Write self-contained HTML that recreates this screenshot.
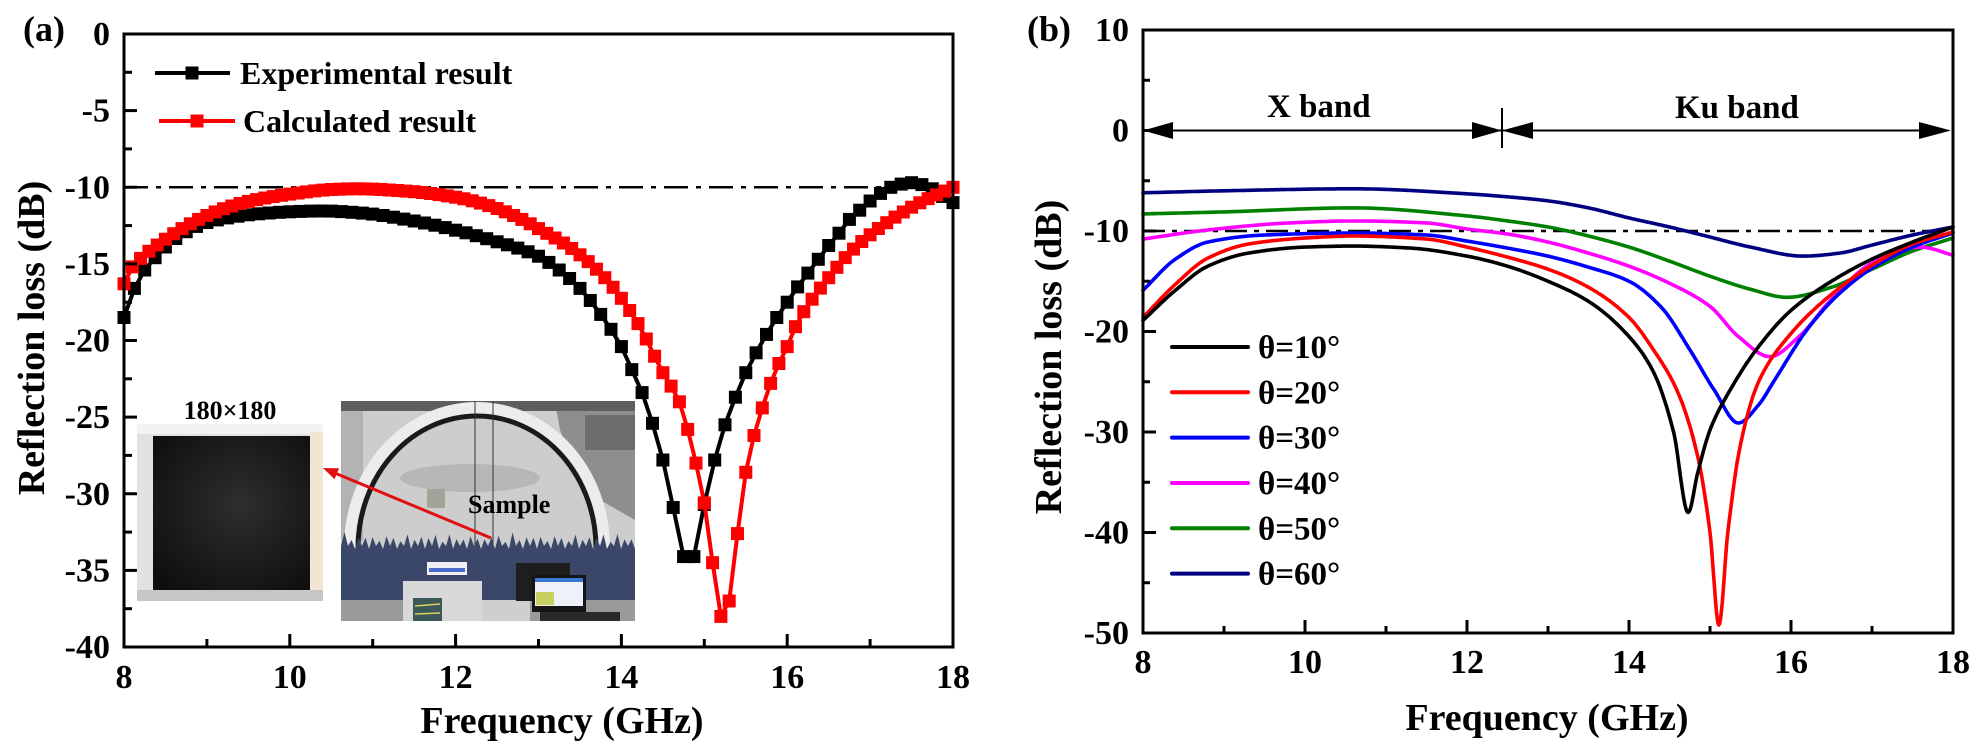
<!DOCTYPE html>
<html><head><meta charset="utf-8">
<style>
html,body{margin:0;padding:0;background:#fff;width:1980px;height:751px;overflow:hidden;}
svg{display:block;}
text{font-family:"Liberation Serif","DejaVu Serif",serif;font-weight:bold;fill:#000;}
</style></head><body>
<svg id="s" width="1980" height="751" viewBox="0 0 1980 751" xmlns="http://www.w3.org/2000/svg">
<defs>
<radialGradient id="blk" cx="0.55" cy="0.45" r="0.7">
<stop offset="0" stop-color="#2e2e2e"/><stop offset="1" stop-color="#0e0e0e"/>
</radialGradient>
<clipPath id="c2"><rect x="341" y="401" width="294" height="220"/></clipPath>
</defs>

<!-- ================= PANEL A ================= -->
<text x="23" y="41" font-size="36">(a)</text>
<!-- inset photo 1 -->
<rect x="137" y="424" width="186" height="177" fill="#e2e2e0"/>
<rect x="137" y="424" width="186" height="10" fill="#f2f2f0"/>
<rect x="310" y="432" width="13" height="160" fill="#f3e5d6"/>
<rect x="137" y="590" width="186" height="11" fill="#c6c6c6"/>
<rect x="153" y="436" width="157" height="154" fill="url(#blk)"/>
<text x="230" y="419" font-size="26" text-anchor="middle">180×180</text>
<!-- inset photo 2 -->
<g clip-path="url(#c2)">
<rect x="341" y="401" width="294" height="220" fill="#cdcdcd"/>
<polygon points="555,401 635,401 635,520 600,500 575,470 560,430" fill="#8e8e8e"/>
<rect x="585" y="415" width="50" height="35" fill="#6d6d6d"/>
<rect x="341" y="401" width="294" height="10" fill="#5e5e5e"/>
<rect x="341" y="411" width="22" height="130" fill="#b3b3b3"/>
<ellipse cx="470" cy="478" rx="70" ry="14" fill="#a8a8a8" opacity="0.6"/>
<rect x="427" y="489" width="18" height="19" fill="#a3a39a"/>
<path d="M 350 548 A 127 140 0 0 1 604 548" fill="none" stroke="#ececec" stroke-width="12"/>
<path d="M 358 548 A 119 132 0 0 1 596 548" fill="none" stroke="#1a1a1a" stroke-width="5"/>
<line x1="475" y1="401" x2="475" y2="560" stroke="#333" stroke-width="1"/>
<line x1="493" y1="401" x2="493" y2="560" stroke="#333" stroke-width="1"/>
<path id="absorb" fill="#3a4768" d=""/>
<rect x="341" y="600" width="294" height="21" fill="#9a9a9a"/>
<rect x="403" y="581" width="79" height="40" fill="#d8d8d8"/>
<rect x="413" y="598" width="29" height="23" fill="#3b5757"/>
<line x1="415" y1="606" x2="440" y2="604" stroke="#d8d060" stroke-width="1.5"/>
<line x1="415" y1="614" x2="440" y2="613" stroke="#d8d060" stroke-width="1.5"/>
<rect x="427" y="562" width="40" height="13" fill="#f0f0f4"/>
<rect x="429" y="568" width="36" height="4" fill="#4a6ad0"/>
<rect x="482" y="600" width="48" height="21" fill="#cfcfcf"/>
<rect x="516" y="563" width="54" height="38" fill="#1e1e1e"/>
<rect x="532" y="575" width="54" height="37" fill="#151515"/>
<rect x="535" y="578" width="48" height="28" fill="#eef2f8"/>
<rect x="535" y="578" width="48" height="4" fill="#3a78d0"/>
<rect x="536" y="592" width="18" height="13" fill="#c8d060"/>
<rect x="540" y="612" width="80" height="9" fill="#2a2a2a"/>
</g>
<line x1="491" y1="538" x2="336" y2="473.5" stroke="#e01010" stroke-width="3"/>
<polygon points="323,468 339.1,468.2 334.5,479.2" fill="#e01010"/>
<text x="468" y="513" font-size="26">Sample</text>

<!-- dash-dot -->
<line x1="124" y1="187.25" x2="953" y2="187.25" stroke="#000" stroke-width="2.5" stroke-dasharray="24 8 5 8"/>
<g id="curvesA"></g>
<!-- axes A -->
<rect x="124" y="34" width="829" height="613" fill="none" stroke="#000" stroke-width="3"/>
<g stroke="#000" stroke-width="3">
<line x1="124" y1="647" x2="124" y2="634"/><line x1="289.8" y1="647" x2="289.8" y2="634"/><line x1="455.6" y1="647" x2="455.6" y2="634"/><line x1="621.4" y1="647" x2="621.4" y2="634"/><line x1="787.2" y1="647" x2="787.2" y2="634"/>
<line x1="206.9" y1="647" x2="206.9" y2="639"/><line x1="372.7" y1="647" x2="372.7" y2="639"/><line x1="538.5" y1="647" x2="538.5" y2="639"/><line x1="704.3" y1="647" x2="704.3" y2="639"/><line x1="870.1" y1="647" x2="870.1" y2="639"/>
<line x1="124" y1="110.6" x2="137" y2="110.6"/><line x1="124" y1="187.25" x2="137" y2="187.25"/><line x1="124" y1="263.9" x2="137" y2="263.9"/><line x1="124" y1="340.5" x2="137" y2="340.5"/><line x1="124" y1="417.1" x2="137" y2="417.1"/><line x1="124" y1="493.75" x2="137" y2="493.75"/><line x1="124" y1="570.4" x2="137" y2="570.4"/>
<line x1="124" y1="72.3" x2="132" y2="72.3"/><line x1="124" y1="148.9" x2="132" y2="148.9"/><line x1="124" y1="225.6" x2="132" y2="225.6"/><line x1="124" y1="302.2" x2="132" y2="302.2"/><line x1="124" y1="378.8" x2="132" y2="378.8"/><line x1="124" y1="455.4" x2="132" y2="455.4"/><line x1="124" y1="532.1" x2="132" y2="532.1"/><line x1="124" y1="608.7" x2="132" y2="608.7"/>
</g>
<g font-size="34" text-anchor="end">
<text x="110" y="45">0</text><text x="110" y="121.6">-5</text><text x="110" y="198.25">-10</text><text x="110" y="274.9">-15</text><text x="110" y="351.5">-20</text><text x="110" y="428.1">-25</text><text x="110" y="504.75">-30</text><text x="110" y="581.4">-35</text><text x="110" y="658">-40</text>
</g>
<g font-size="34" text-anchor="middle">
<text x="124" y="688">8</text><text x="289.8" y="688">10</text><text x="455.6" y="688">12</text><text x="621.4" y="688">14</text><text x="787.2" y="688">16</text><text x="953" y="688">18</text>
</g>
<text x="562" y="733" font-size="38" text-anchor="middle">Frequency (GHz)</text>
<text transform="translate(44,338) rotate(-90)" font-size="38" text-anchor="middle">Reflection loss (dB)</text>
<!-- legend A -->
<line x1="155" y1="73" x2="230" y2="73" stroke="#000" stroke-width="4"/>
<rect x="185.5" y="66.5" width="13" height="13" fill="#000"/>
<text x="240" y="84" font-size="32">Experimental result</text>
<line x1="159" y1="121" x2="235" y2="121" stroke="#f00" stroke-width="4"/>
<rect x="190.5" y="114.5" width="13" height="13" fill="#f00"/>
<text x="243" y="132" font-size="32">Calculated result</text>

<!-- ================= PANEL B ================= -->
<text x="1027" y="41" font-size="36">(b)</text>
<line x1="1143" y1="231" x2="1953" y2="231" stroke="#000" stroke-width="2.5" stroke-dasharray="22 7 5 7"/>
<g id="curvesB"></g>
<!-- band arrows -->
<line x1="1150" y1="130.5" x2="1945" y2="130.5" stroke="#000" stroke-width="2"/>
<polygon points="1143,130.5 1173,122 1173,139" fill="#000"/>
<polygon points="1502,130.5 1472,122 1472,139" fill="#000"/>
<line x1="1502" y1="108" x2="1502" y2="148" stroke="#000" stroke-width="2"/>
<polygon points="1502,130.5 1533,122 1533,139" fill="#000"/>
<polygon points="1951,130.5 1919,122 1919,139" fill="#000"/>
<text x="1267" y="117" font-size="33">X band</text>
<text x="1675" y="118" font-size="33">Ku band</text>
<!-- axes B -->
<rect x="1143" y="30" width="810" height="603" fill="none" stroke="#000" stroke-width="3"/>
<g stroke="#000" stroke-width="3">
<line x1="1143" y1="633" x2="1143" y2="620"/><line x1="1305" y1="633" x2="1305" y2="620"/><line x1="1467" y1="633" x2="1467" y2="620"/><line x1="1629" y1="633" x2="1629" y2="620"/><line x1="1791" y1="633" x2="1791" y2="620"/>
<line x1="1224" y1="633" x2="1224" y2="626"/><line x1="1386" y1="633" x2="1386" y2="626"/><line x1="1548" y1="633" x2="1548" y2="626"/><line x1="1710" y1="633" x2="1710" y2="626"/><line x1="1872" y1="633" x2="1872" y2="626"/>
<line x1="1143" y1="130.5" x2="1156" y2="130.5"/><line x1="1143" y1="231" x2="1156" y2="231"/><line x1="1143" y1="331.5" x2="1156" y2="331.5"/><line x1="1143" y1="432" x2="1156" y2="432"/><line x1="1143" y1="532.5" x2="1156" y2="532.5"/>
<line x1="1143" y1="80.25" x2="1150" y2="80.25"/><line x1="1143" y1="180.75" x2="1150" y2="180.75"/><line x1="1143" y1="281.25" x2="1150" y2="281.25"/><line x1="1143" y1="381.75" x2="1150" y2="381.75"/><line x1="1143" y1="482.25" x2="1150" y2="482.25"/><line x1="1143" y1="582.75" x2="1150" y2="582.75"/>
</g>
<g font-size="34" text-anchor="end">
<text x="1129" y="41">10</text><text x="1129" y="141.5">0</text><text x="1129" y="242">-10</text><text x="1129" y="342.5">-20</text><text x="1129" y="443">-30</text><text x="1129" y="543.5">-40</text><text x="1129" y="644">-50</text>
</g>
<g font-size="34" text-anchor="middle">
<text x="1143" y="673">8</text><text x="1305" y="673">10</text><text x="1467" y="673">12</text><text x="1629" y="673">14</text><text x="1791" y="673">16</text><text x="1953" y="673">18</text>
</g>
<text x="1547" y="730" font-size="38" text-anchor="middle">Frequency (GHz)</text>
<text transform="translate(1061,357) rotate(-90)" font-size="38" text-anchor="middle">Reflection loss (dB)</text>
<!-- legend B -->
<g stroke-width="4" stroke-linecap="round">
<line x1="1172" y1="347" x2="1248" y2="347" stroke="#000"/>
<line x1="1172" y1="392.3" x2="1248" y2="392.3" stroke="#f00"/>
<line x1="1172" y1="437.6" x2="1248" y2="437.6" stroke="#00f"/>
<line x1="1172" y1="483" x2="1248" y2="483" stroke="#f0f"/>
<line x1="1172" y1="528.3" x2="1248" y2="528.3" stroke="#008000"/>
<line x1="1172" y1="573.6" x2="1248" y2="573.6" stroke="#000080"/>
</g>
<g font-size="33">
<text x="1258" y="358">θ=10°</text>
<text x="1258" y="403.3">θ=20°</text>
<text x="1258" y="448.6">θ=30°</text>
<text x="1258" y="494">θ=40°</text>
<text x="1258" y="539.3">θ=50°</text>
<text x="1258" y="584.6">θ=60°</text>
</g>
</svg>
<script>
(function(){
var NS="http://www.w3.org/2000/svg";
function el(tag,attrs,parent){var e=document.createElementNS(NS,tag);for(var k in attrs)e.setAttribute(k,attrs[k]);parent.appendChild(e);return e;}
function pchip(pts){
 var xs=pts.map(function(p){return p[0];}), ys=pts.map(function(p){return p[1];}), n=xs.length;
 var h=[],d=[],m=new Array(n),i;
 for(i=0;i<n-1;i++){h[i]=xs[i+1]-xs[i]; d[i]=(ys[i+1]-ys[i])/h[i];}
 m[0]=d[0]; m[n-1]=d[n-2];
 for(i=1;i<n-1;i++){
  if(d[i-1]*d[i]<=0) m[i]=0;
  else {var w1=2*h[i]+h[i-1], w2=h[i]+2*h[i-1]; m[i]=(w1+w2)/(w1/d[i-1]+w2/d[i]);}
 }
 return function(x){var j=0; while(j<n-2 && x>xs[j+1]) j++; var t=(x-xs[j])/h[j], t2=t*t, t3=t2*t;
  return (2*t3-3*t2+1)*ys[j]+(t3-2*t2+t)*h[j]*m[j]+(-2*t3+3*t2)*ys[j+1]+(t3-t2)*h[j]*m[j+1];};
}
// absorber spikes
var dstr="M341,621 L341,546";
for(var x=341,k=0;x<=640;x+=7,k++){
 var top=532+6*Math.abs(Math.sin(k*1.7))+(k%3)*2;
 dstr+=" L"+(x+3.5)+","+top.toFixed(1)+" L"+(x+7)+","+(546+(k%2)*3);
}
dstr+=" L640,621 Z";
document.getElementById('absorb').setAttribute('d',dstr);

// Panel A
var LA=document.getElementById('curvesA');
var XA=function(f){return 124+(f-8)*82.9;}, YA=function(d){return 34-d*15.325;};
function drawA(pts,step,color){
 var g=pchip(pts), P=[], n=Math.round(10/step);
 for(var i=0;i<=n;i++){var f=8+i*step; if(f>18)f=18; P.push([XA(f),YA(g(f))]);}
 el('polyline',{points:P.map(function(p){return p[0].toFixed(1)+','+p[1].toFixed(1);}).join(' '),fill:'none',stroke:color,'stroke-width':4,'stroke-linejoin':'miter','stroke-miterlimit':10},LA);
 P.forEach(function(p){el('rect',{x:(p[0]-6.5).toFixed(1),y:(p[1]-6.5).toFixed(1),width:13,height:13,fill:color},LA);});
}
var blackA=[[8,-18.5],[8.125,-16.6],[8.25,-15.4],[8.375,-14.6],[8.5,-13.9],[8.75,-12.9],[9.0,-12.3],[9.25,-12.0],[9.5,-11.8],[10.0,-11.6],[10.4,-11.55],[10.9,-11.7],[11.5,-12.2],[12.0,-12.8],[12.4,-13.4],[13.0,-14.5],[13.25,-15.4],[13.5,-16.6],[13.75,-18.3],[14.0,-20.4],[14.125,-21.9],[14.25,-23.4],[14.375,-25.4],[14.5,-27.8],[14.625,-30.9],[14.75,-34.1],[14.875,-34.1],[15.0,-30.7],[15.125,-27.8],[15.25,-25.5],[15.375,-23.7],[15.5,-22.1],[15.625,-20.8],[15.75,-19.6],[15.875,-18.5],[16.0,-17.5],[16.125,-16.5],[16.25,-15.6],[16.375,-14.7],[16.5,-13.8],[16.625,-13.0],[16.75,-12.1],[16.875,-11.5],[17.0,-10.9],[17.125,-10.4],[17.25,-10.0],[17.5,-9.7],[17.75,-10.1],[17.875,-10.6],[18,-11.0]];
var redA=[[8,-16.3],[8.1,-15.2],[8.23,-14.5],[8.47,-13.5],[8.7,-12.7],[8.9,-12.1],[9.2,-11.4],[9.56,-10.85],[10.0,-10.45],[10.5,-10.15],[10.8,-10.1],[11.4,-10.25],[12.0,-10.65],[12.4,-11.2],[12.8,-12.1],[13.0,-12.7],[13.4,-14.0],[13.8,-15.9],[14.2,-18.9],[14.5,-22.1],[14.7,-24.0],[14.8,-25.8],[14.9,-28.0],[15.0,-30.6],[15.1,-34.5],[15.2,-38.0],[15.3,-37.0],[15.4,-32.6],[15.5,-28.6],[15.6,-26.2],[15.7,-24.4],[15.8,-22.8],[15.9,-21.5],[16.0,-20.4],[16.1,-19.1],[16.25,-17.7],[16.5,-15.9],[16.75,-14.3],[17.0,-13.1],[17.5,-11.3],[18,-10.0]];
drawA(blackA,0.125,'#000');
drawA(redA,0.1,'#f00');

// Panel B
var LB=document.getElementById('curvesB');
var XB=function(f){return 1143+(f-8)*81;}, YB=function(d){return 130.5-d*10.05;};
function drawB(pts,color){
 var g=pchip(pts), s=[];
 for(var i=0;i<=1000;i++){var f=8+i*0.01; if(f>18)f=18; s.push(XB(f).toFixed(1)+','+YB(g(f)).toFixed(1));}
 el('polyline',{points:s.join(' '),fill:'none',stroke:color,'stroke-width':3.6,'stroke-linejoin':'round','stroke-linecap':'round'},LB);
}
var b10=[[8,-18.9],[8.4,-15.9],[8.8,-13.5],[9.3,-12.2],[10,-11.6],[10.6,-11.5],[11.3,-11.7],[12,-12.5],[12.5,-13.5],[13,-15.0],[13.5,-17.0],[14,-20.5],[14.3,-24.0],[14.55,-30.0],[14.73,-38.0],[14.85,-34.0],[15.0,-29.8],[15.25,-25.8],[15.6,-21.5],[16.0,-17.9],[16.5,-15.0],[17.0,-12.8],[17.5,-11.1],[18,-9.6]];
var b20=[[8,-18.6],[8.4,-15.3],[8.8,-12.7],[9.3,-11.3],[10,-10.7],[10.6,-10.5],[11.5,-10.8],[12,-11.6],[12.5,-12.6],[13,-13.8],[13.5,-15.6],[14,-18.6],[14.3,-21.8],[14.6,-26.0],[14.85,-32.5],[15.0,-40.0],[15.11,-49.2],[15.22,-40.0],[15.37,-31.5],[15.6,-25.0],[16.0,-20.2],[16.5,-16.3],[17.0,-13.4],[17.5,-11.3],[18,-10.1]];
var b30=[[8,-15.9],[8.4,-12.8],[8.8,-11.1],[9.5,-10.4],[10.6,-10.2],[11.5,-10.4],[12,-11.0],[12.5,-11.7],[13,-12.5],[13.5,-13.6],[14,-15.0],[14.4,-17.6],[14.75,-21.8],[15.05,-25.8],[15.35,-29.1],[15.6,-27.3],[15.8,-24.8],[16.2,-19.8],[16.6,-16.2],[17.0,-13.7],[17.5,-11.6],[18,-10.2]];
var b40=[[8,-10.8],[8.8,-9.9],[9.8,-9.2],[10.6,-9.0],[11.5,-9.2],[12,-9.8],[12.5,-10.3],[13,-11.1],[13.5,-12.2],[14,-13.5],[14.5,-15.2],[15,-17.5],[15.35,-20.5],[15.74,-22.5],[16.1,-20.5],[16.5,-16.8],[17.0,-13.2],[17.6,-11.6],[18,-12.4]];
var b50=[[8,-8.3],[9,-8.1],[10.6,-7.7],[12,-8.5],[12.5,-9.0],[13,-9.6],[13.5,-10.5],[14,-11.6],[14.5,-13.0],[15,-14.5],[15.5,-15.8],[15.95,-16.6],[16.5,-15.6],[17,-13.8],[17.5,-12.0],[18,-10.7]];
var b60=[[8,-6.2],[9,-6.0],[10.6,-5.8],[12,-6.3],[12.5,-6.6],[13,-7.0],[13.5,-7.7],[14,-8.7],[14.5,-9.6],[15,-10.6],[15.5,-11.6],[16.15,-12.5],[16.6,-12.2],[17,-11.4],[17.5,-10.4],[18,-9.6]];
drawB(b60,'#000080');
drawB(b50,'#008000');
drawB(b40,'#f0f');
drawB(b30,'#00f');
drawB(b20,'#f00');
drawB(b10,'#000');
})();
</script>
</body></html>
